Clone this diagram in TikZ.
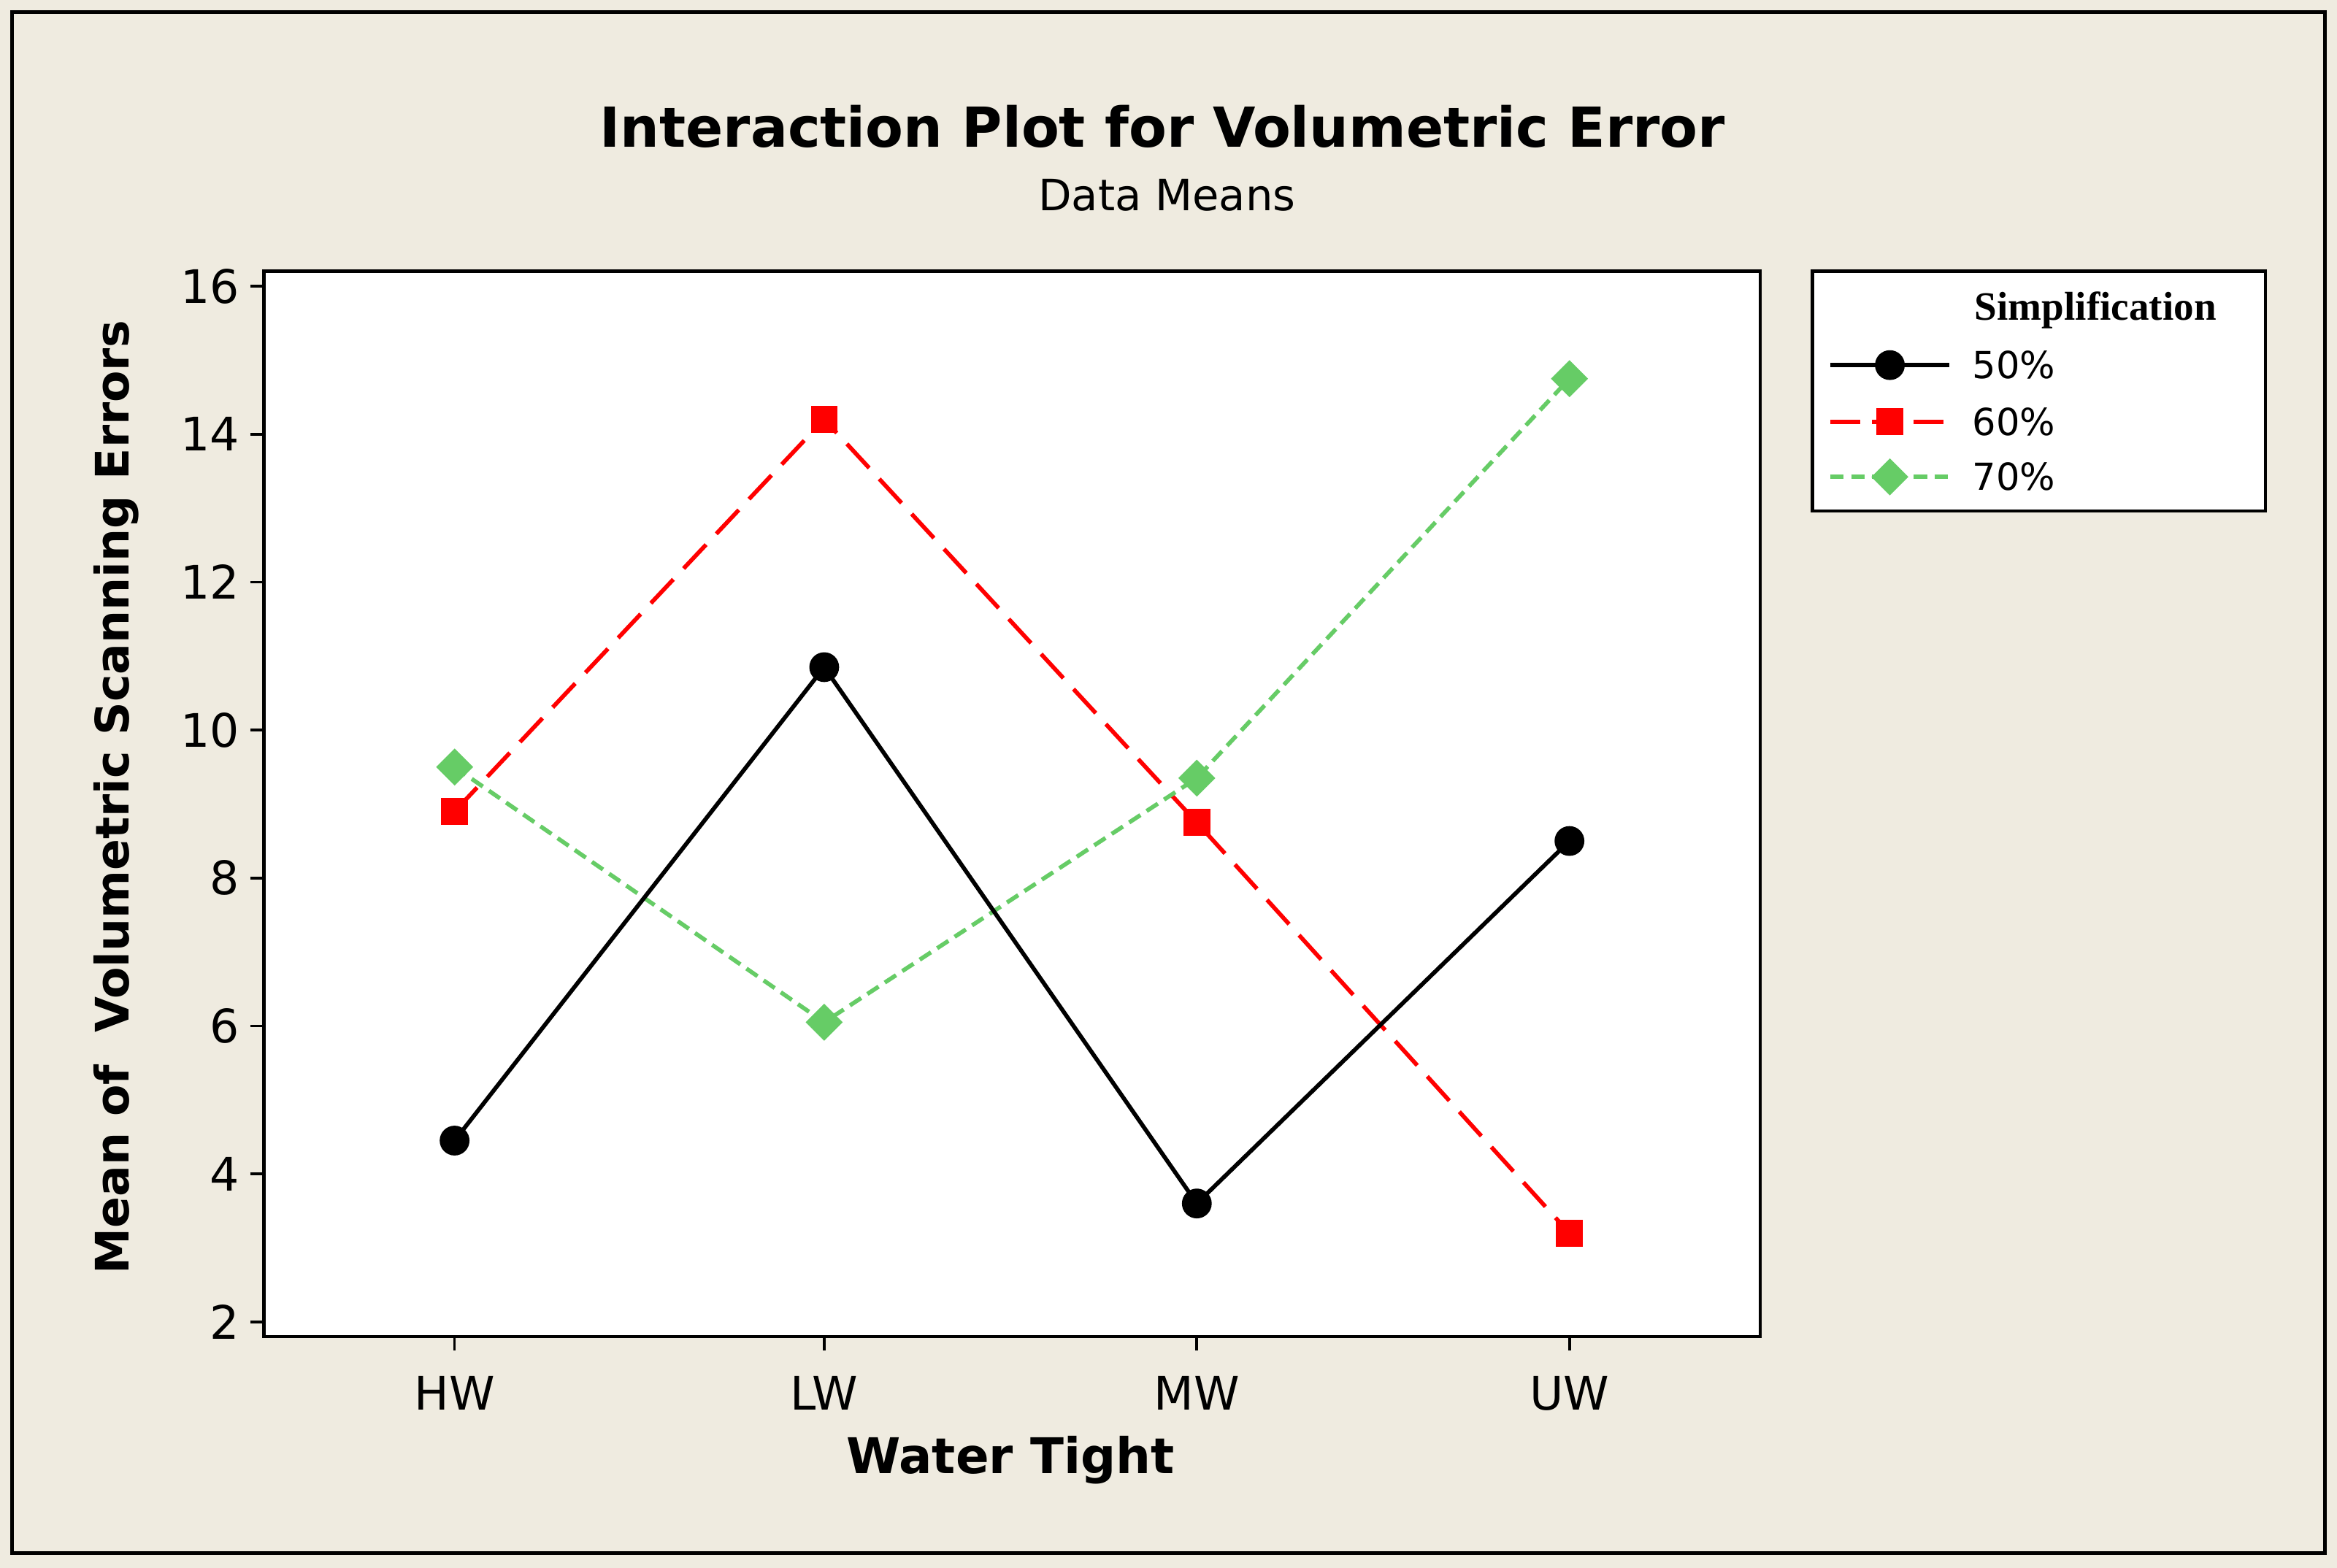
\documentclass[tikz,border=0pt]{standalone}
\usepackage{fontspec}
\setmainfont{DejaVu Sans}
\newfontfamily\serifb{Liberation Serif}
\usetikzlibrary{shapes.geometric}
\definecolor{bg}{HTML}{EFEBE0}
\definecolor{grn}{HTML}{66CC66}
\begin{document}
\begin{tikzpicture}[x=1pt,y=-1pt,
  ticklab/.style={font=\fontsize{31}{33}\selectfont},
  leglab/.style={font=\fontsize{25}{27}\selectfont},
  ser50/.style={black,line width=2.8pt},
  ser60/.style={red,line width=2.8pt,dash pattern=on 22pt off 10pt},
  ser70/.style={grn,line width=2.8pt,dash pattern=on 9pt off 5pt},
  m50/.style={circle,fill=black,inner sep=0pt,minimum size=20pt},
  m60/.style={rectangle,fill=red,inner sep=0pt,minimum size=18pt},
  m70/.style={diamond,fill=grn,inner sep=0pt,minimum size=25pt}]
\useasboundingbox (0,0) rectangle (1568,1052);
\fill[bg] (0,0) rectangle (1568,1052);
\draw[line width=2.5pt] (8,8) rectangle (1560,1042);
\node[font=\bfseries\fontsize{37}{40}\selectfont] (title) at (780,85) {Interaction Plot for Volumetric Error};
\node[font=\fontsize{29}{32}\selectfont] (sub) at (783,131) {Data Means};
\fill[white] (177,182) rectangle (1181,897);
\draw[line width=2.2pt] (177,182) rectangle (1181,897);
\foreach \v in {2,4,...,16}{
  \draw[line width=1.8pt] (168,{887-(\v-2)*49.64}) -- (177,{887-(\v-2)*49.64});
  \node[ticklab,anchor=east] at (164,{887-(\v-2)*49.64}) {\v};}
\foreach \x/\l in {305/HW,553/LW,803/MW,1053/UW}{
  \draw[line width=1.8pt] (\x,897) -- (\x,906);
  \node[ticklab] at (\x,935) {\l};}
\node[font=\bfseries\fontsize{31}{34}\selectfont,rotate=90] (ylab) at (78,535) {Mean of \ Volumetric Scanning Errors};
\node[font=\bfseries\fontsize{33}{36}\selectfont] (xlab) at (678,980) {Water Tight};
\def\Y#1{{887-(#1-2)*49.64}}
\coordinate (a1) at (305,\Y{4.45}); \coordinate (a2) at (553,\Y{10.85});
\coordinate (a3) at (803,\Y{3.6}); \coordinate (a4) at (1053,\Y{8.5});
\coordinate (b1) at (305,\Y{8.9}); \coordinate (b2) at (553,\Y{14.2});
\coordinate (b3) at (803,\Y{8.75}); \coordinate (b4) at (1053,\Y{3.2});
\coordinate (c1) at (305,\Y{9.5}); \coordinate (c2) at (553,\Y{6.05});
\coordinate (c3) at (803,\Y{9.35}); \coordinate (c4) at (1053,\Y{14.75});
\draw[ser60] (b1)--(b2)--(b3)--(b4);
\draw[ser70] (c1)--(c2)--(c3)--(c4);
\draw[ser50] (a1)--(a2)--(a3)--(a4);
\foreach \i in {1,...,4}{
  \node[m60] at (b\i) {}; \node[m70] at (c\i) {}; \node[m50] at (a\i) {};}
\draw[fill=white,line width=2.2pt] (1216,182) rectangle (1520,343);
\node[font=\serifb\bfseries\fontsize{27}{29}\selectfont] (lt) at (1406,208) {Simplification};
\draw[ser50] (1228,245) -- (1308,245); \node[m50] at (1268,245) {};
\draw[ser60,dash pattern=on 20pt off 8pt] (1228,283) -- (1308,283); \node[m60] at (1268,283) {};
\draw[ser70] (1228,320) -- (1308,320); \node[m70] at (1268,320) {};
\node[leglab,anchor=west] at (1320,245) {50\%};
\node[leglab,anchor=west] at (1320,283) {60\%};
\node[leglab,anchor=west] at (1320,320) {70\%};
\end{tikzpicture}
\end{document}
